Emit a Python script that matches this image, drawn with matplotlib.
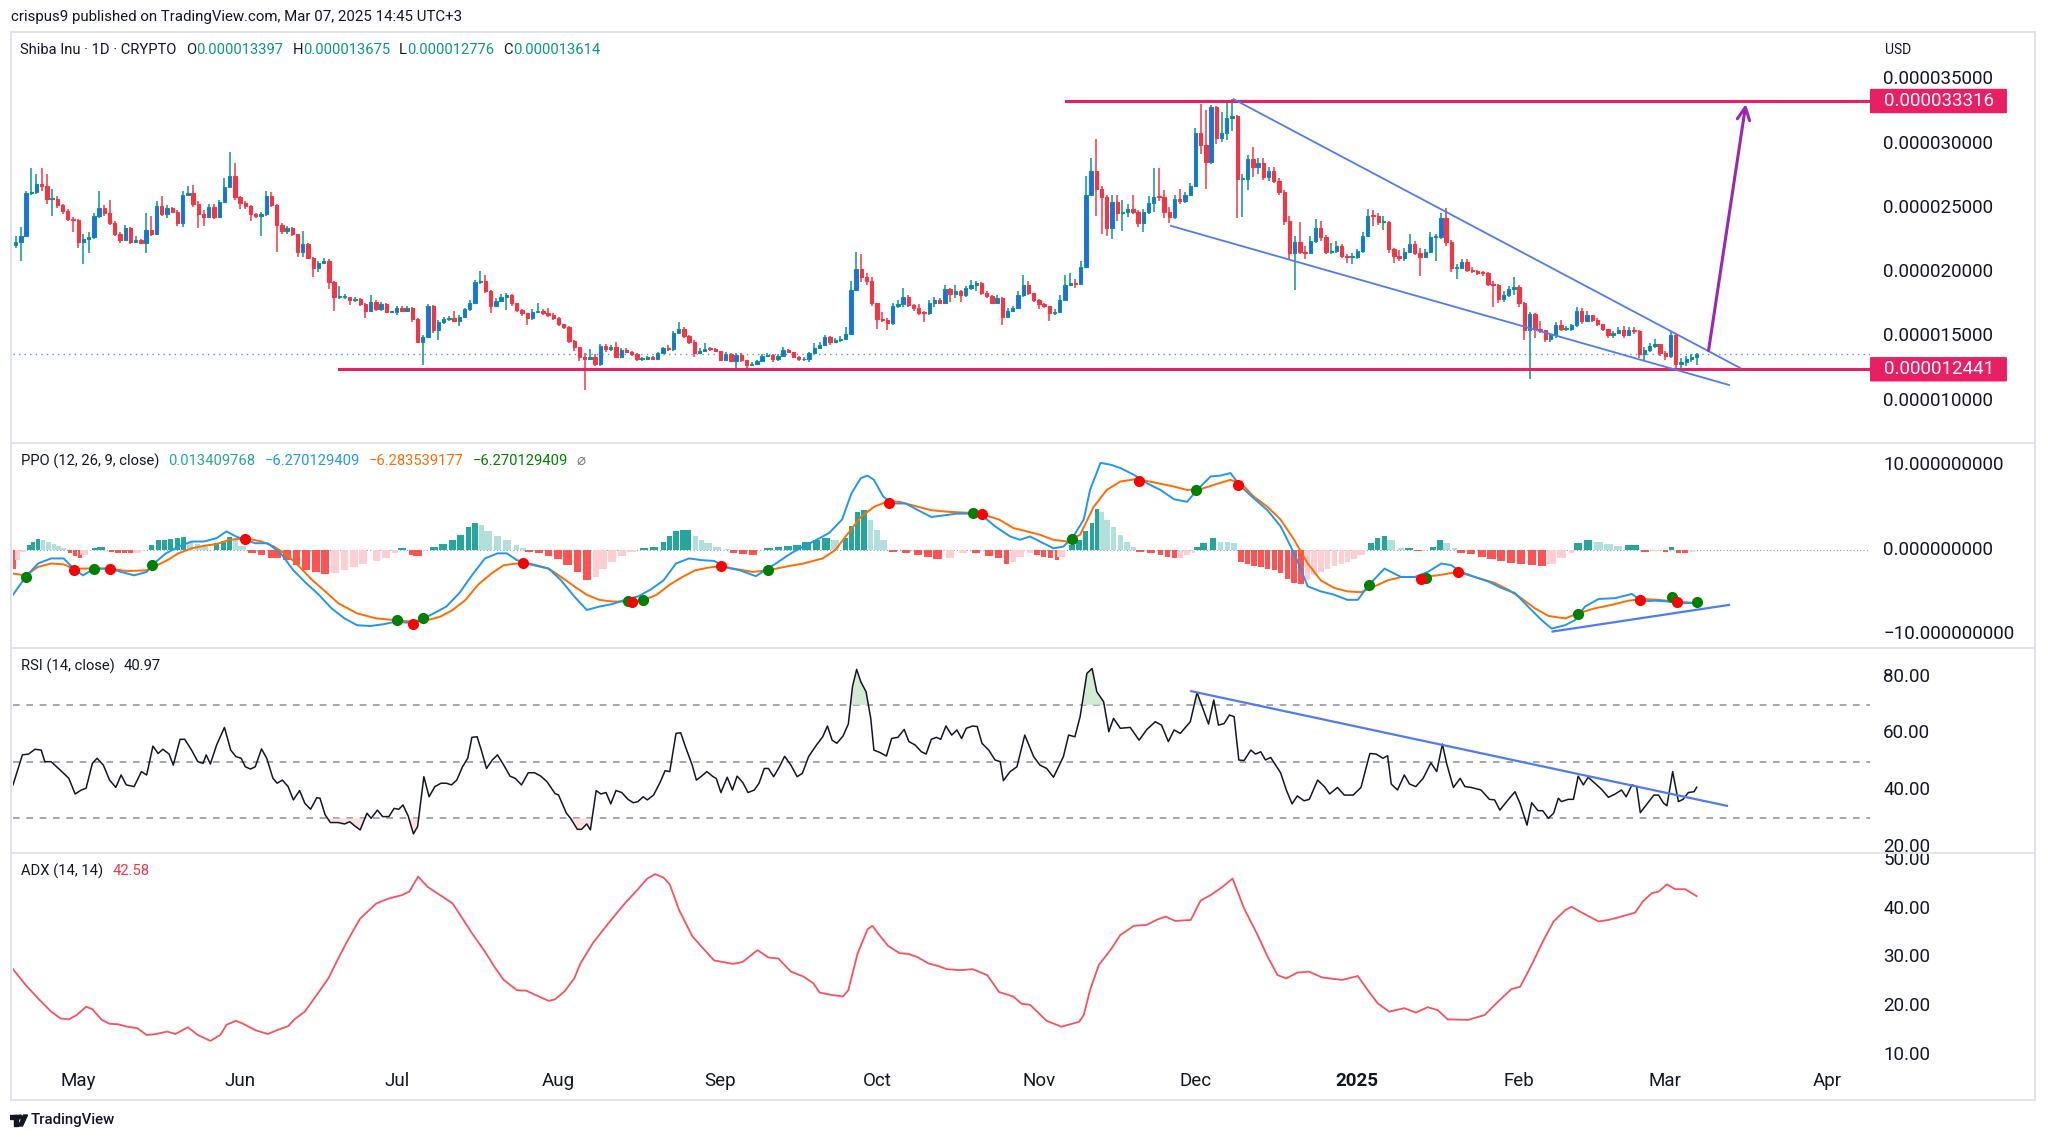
import numpy as np
import matplotlib
matplotlib.use("Agg")
import matplotlib.pyplot as plt
from matplotlib.lines import Line2D
from matplotlib.patches import FancyBboxPatch, Rectangle, Circle, Polygon

plt.rcParams['font.family'] = ['Roboto', 'DejaVu Sans']

W, H = 2048, 1141

# SHIB/USD daily candles, prices in units of 1e-6 USD.
# day 0 = 19 Apr 2024 ... day 322 = 7 Mar 2025; open = previous close
start_date = np.datetime64('2024-04-19')
first_open = 22.1
closes = [
    22.37, 22.84, 26.13, 26.26, 26.83, 26.7, 25.67, 25.72, 25.2, 24.76,
    24.14, 24.06, 22.37, 22.55, 22.71, 24.37, 24.97, 24.63, 23.85, 22.97,
    22.5, 23.41, 22.37, 22.5, 22.3, 23.28, 22.97, 25.15, 24.53, 24.97,
    24.71, 23.8, 26.0, 26.13, 25.3, 24.53, 24.32, 25.04, 24.27, 25.46,
    26.65, 27.48, 25.82, 25.35, 25.15, 24.53, 24.37, 24.53, 25.9, 25.2,
    23.67, 23.18, 23.41, 22.97, 21.6, 22.19, 21.13, 20.3, 20.74, 20.89,
    19.26, 18.04, 18.09, 18.09, 17.83, 17.88, 17.52, 17.0, 17.7, 17.11,
    17.52, 16.9, 16.9, 17.18, 17.0, 17.24, 16.33, 14.59, 14.98, 17.39,
    15.5, 16.15, 16.33, 16.41, 16.2, 16.54, 17.11, 17.62, 19.2, 19.34,
    18.56, 17.39, 17.78, 18.09, 18.22, 17.57, 17.05, 16.79, 16.41, 16.92,
    17.0, 16.79, 16.66, 16.41, 15.94, 15.76, 14.67, 14.2, 13.37, 13.27,
    13.42, 12.85, 14.25, 13.99, 14.15, 13.37, 13.94, 13.79, 13.63, 13.27,
    13.27, 13.37, 13.27, 13.68, 14.07, 14.0, 15.24, 15.58, 15.03, 14.59,
    13.73, 13.89, 14.04, 13.99, 13.89, 13.16, 13.63, 13.11, 13.58, 13.16,
    12.77, 12.85, 13.11, 13.47, 13.55, 13.21, 13.47, 13.94, 13.79, 13.42,
    13.21, 13.27, 13.68, 14.07, 14.33, 14.98, 14.59, 14.72, 14.82, 15.16,
    18.61, 20.22, 19.6, 19.31, 17.57, 16.38, 16.28, 16.02, 17.37, 17.5,
    18.09, 17.44, 17.24, 16.85, 16.79, 17.62, 17.83, 17.62, 18.66, 18.27,
    18.53, 18.22, 18.74, 18.97, 19.13, 18.35, 18.17, 17.62, 18.01, 16.54,
    17.0, 17.18, 18.2, 19.0, 18.36, 17.84, 17.53, 17.37, 16.85, 16.93,
    17.84, 19.0, 19.14, 19.1, 20.43, 26.01, 27.9, 26.45, 25.83, 23.42,
    25.49, 24.58, 24.69, 24.9, 24.71, 23.86, 24.71, 25.41, 25.88, 25.83,
    24.71, 24.27, 25.67, 25.57, 26.01, 26.71, 30.86, 29.9, 28.6, 32.83,
    30.42, 30.81, 31.98, 32.16, 27.26, 27.26, 28.79, 28.16, 28.53, 27.44,
    27.9, 27.13, 26.27, 24.01, 21.52, 22.38, 21.6, 21.47, 22.46, 23.47,
    22.77, 21.6, 21.65, 22.07, 21.29, 21.21, 21.21, 21.65, 22.82, 24.4,
    24.38, 23.94, 23.94, 21.78, 21.26, 21.08, 21.6, 22.2, 21.52, 21.21,
    21.6, 22.72, 22.77, 24.2, 22.38, 20.3, 20.36, 20.82, 20.17, 20.1,
    19.97, 19.92, 19.08, 19.01, 17.89, 18.23, 18.67, 18.83, 17.63, 15.47,
    16.77, 15.59, 15.47, 14.81, 15.07, 15.85, 15.59, 15.59, 15.85, 16.98,
    16.19, 16.64, 16.3, 15.98, 15.59, 15.07, 15.25, 15.52, 15.07, 15.52,
    15.41, 13.64, 13.95, 14.29, 14.42, 13.69, 13.51, 15.07, 12.86, 12.99,
    13.25, 13.397, 13.614,
]
highs = [
    22.8, 23.54, 26.3, 28.1, 27.6, 28.1, 27.6, 26.5, 25.9, 25.3,
    24.9, 24.3, 24.1, 23.0, 23.1, 24.6, 26.3, 25.2, 25.6, 24.0,
    23.1, 23.7, 23.5, 22.8, 22.6, 24.6, 24.4, 25.5, 25.9, 25.2,
    25.1, 24.8, 26.3, 26.7, 26.8, 25.5, 24.8, 25.3, 25.3, 25.6,
    27.3, 29.35, 28.5, 25.9, 25.5, 25.2, 24.6, 24.7, 26.3, 26.2,
    25.3, 23.8, 23.6, 23.5, 23.0, 23.2, 22.3, 21.2, 20.9, 21.1,
    21.0, 19.3, 18.95, 18.3, 18.1, 18.1, 18.0, 17.6, 18.2, 17.8,
    17.7, 17.6, 17.0, 17.4, 17.4, 17.4, 17.3, 16.4, 15.1, 17.5,
    17.45, 16.3, 16.5, 16.6, 17.0, 16.7, 17.2, 17.8, 19.4, 20.1,
    19.8, 18.6, 18.0, 18.3, 18.4, 18.3, 17.6, 17.1, 16.8, 17.1,
    17.6, 17.1, 17.2, 16.8, 16.5, 16.0, 15.8, 14.7, 14.2, 13.7,
    14.0, 13.6, 14.4, 14.4, 14.3, 14.6, 14.1, 14.1, 13.9, 13.7,
    13.4, 13.5, 13.45, 13.8, 14.2, 14.3, 15.4, 16.1, 15.7, 15.1,
    14.7, 14.1, 14.5, 14.2, 14.1, 13.9, 13.8, 13.7, 13.7, 13.7,
    13.2, 13.0, 13.2, 13.6, 13.7, 13.6, 13.6, 14.2, 14.0, 13.8,
    13.5, 13.4, 13.8, 14.5, 14.6, 15.1, 15.0, 14.9, 15.0, 15.7,
    19.3, 21.6, 21.4, 19.9, 19.6, 17.6, 16.9, 16.4, 17.6, 17.8,
    18.8, 18.2, 17.5, 17.5, 17.0, 17.8, 18.1, 18.0, 19.0, 18.8,
    19.0, 18.6, 18.9, 19.4, 19.3, 19.2, 18.5, 18.2, 18.2, 18.1,
    17.2, 17.4, 18.5, 19.8, 19.3, 18.4, 17.9, 17.6, 17.4, 17.1,
    18.2, 19.8, 19.9, 19.5, 20.9, 27.5, 28.9, 30.4, 26.7, 26.0,
    26.0, 26.0, 25.6, 25.3, 26.0, 24.8, 24.9, 25.9, 28.1, 28.1,
    26.4, 25.1, 26.0, 26.5, 26.2, 26.9, 31.2, 33.1, 32.6, 33.0,
    32.9, 32.5, 33.2, 33.46, 32.2, 27.6, 29.1, 29.7, 28.9, 28.9,
    28.2, 28.2, 27.3, 26.4, 24.4, 22.8, 23.9, 22.0, 22.8, 24.1,
    24.0, 22.9, 22.3, 22.4, 22.2, 21.4, 21.5, 21.8, 23.1, 24.9,
    24.8, 24.6, 24.4, 24.0, 21.9, 21.7, 21.9, 23.0, 22.4, 21.9,
    21.8, 23.1, 23.0, 24.6, 25.0, 22.5, 20.6, 21.0, 21.0, 20.4,
    20.2, 20.1, 20.0, 19.3, 19.1, 18.5, 18.9, 19.6, 19.0, 17.7,
    16.9, 16.8, 16.2, 15.5, 15.2, 16.1, 16.3, 15.8, 16.0, 17.3,
    17.2, 17.0, 16.7, 16.4, 16.0, 15.6, 15.4, 15.7, 15.8, 15.7,
    15.7, 15.5, 14.2, 14.5, 14.8, 14.4, 13.9, 15.4, 15.2, 13.3,
    13.5, 13.6, 13.675,
]
lows = [
    21.9, 20.9, 22.7, 26.0, 26.1, 26.3, 25.3, 24.4, 25.0, 24.5,
    24.0, 23.1, 21.85, 20.6, 21.5, 22.6, 24.2, 24.4, 23.7, 22.8,
    22.3, 22.4, 22.2, 22.3, 22.2, 21.5, 22.8, 22.9, 24.4, 24.2,
    24.6, 23.6, 23.5, 25.9, 25.1, 23.4, 23.6, 24.2, 24.1, 24.2,
    25.4, 26.6, 25.6, 24.9, 24.9, 24.0, 24.2, 22.8, 24.4, 25.1,
    21.6, 23.0, 23.0, 22.8, 21.15, 21.2, 21.0, 19.65, 20.0, 20.7,
    18.7, 17.0, 17.9, 17.9, 17.45, 17.7, 17.4, 16.4, 16.9, 17.0,
    17.0, 16.8, 16.8, 16.7, 16.9, 16.9, 16.1, 14.5, 12.8, 14.9,
    15.3, 14.75, 16.0, 16.2, 16.1, 15.8, 16.5, 17.0, 17.6, 19.1,
    18.4, 16.85, 17.3, 17.7, 17.05, 17.4, 16.9, 16.6, 15.9, 16.3,
    16.8, 16.7, 16.5, 16.3, 15.8, 15.6, 14.5, 13.9, 13.1, 10.8,
    13.2, 12.7, 12.7, 13.8, 13.9, 13.3, 13.3, 13.7, 13.5, 13.1,
    13.1, 13.2, 13.15, 13.2, 13.6, 13.9, 13.9, 15.2, 14.9, 14.4,
    13.4, 13.6, 13.8, 13.9, 13.8, 13.1, 13.1, 13.0, 12.5, 13.0,
    12.4, 12.7, 12.8, 13.0, 13.4, 13.0, 13.1, 13.4, 13.7, 13.3,
    13.1, 13.1, 13.0, 13.6, 14.0, 14.3, 14.3, 14.5, 14.6, 14.8,
    15.1, 18.5, 19.2, 19.0, 17.4, 15.6, 16.1, 15.5, 15.9, 17.2,
    17.3, 17.3, 17.0, 16.7, 16.1, 16.7, 17.3, 17.5, 17.5, 17.7,
    18.0, 17.7, 18.1, 18.6, 18.5, 18.2, 18.0, 17.5, 17.6, 15.9,
    16.4, 16.9, 17.1, 18.1, 18.2, 17.7, 17.1, 17.2, 16.2, 16.7,
    16.9, 17.8, 18.9, 18.8, 19.0, 20.3, 26.0, 24.4, 23.0, 22.8,
    22.6, 24.0, 23.2, 24.3, 24.5, 23.5, 23.1, 24.5, 24.7, 25.5,
    24.2, 23.8, 24.1, 25.3, 25.4, 25.9, 26.6, 29.2, 26.5, 28.4,
    30.0, 30.1, 30.3, 31.0, 24.2, 24.3, 26.4, 27.4, 27.6, 27.2,
    27.1, 26.9, 26.0, 23.7, 21.0, 18.6, 21.4, 21.0, 21.4, 22.3,
    22.4, 21.4, 21.4, 21.5, 21.1, 20.7, 20.6, 21.0, 21.5, 22.7,
    23.6, 23.7, 23.3, 21.5, 20.7, 20.9, 20.9, 21.5, 21.3, 19.7,
    21.1, 21.5, 20.9, 22.6, 22.0, 20.0, 19.5, 20.3, 20.0, 19.9,
    19.8, 19.7, 18.9, 17.3, 17.6, 17.7, 18.1, 18.2, 17.3, 14.7,
    11.69, 14.9, 15.3, 14.6, 14.6, 14.9, 15.4, 15.4, 15.4, 15.7,
    16.0, 16.1, 16.1, 15.8, 15.4, 14.9, 14.9, 15.2, 14.9, 15.0,
    15.2, 13.3, 13.1, 13.8, 14.1, 13.5, 13.2, 13.3, 12.5, 12.2,
    12.7, 13.0, 12.776,
]

# drawings on the price pane (day, price)
resistance = 33.316
support = 12.441
resistance_from = 201.2
support_from = 62.0
last_close = 13.614
wedge_upper = [(233.3, 33.46), (330.3, 12.55)]
wedge_lower = [(221.3, 23.6), (328.2, 11.22)]
target_arrow = [(324.2, 13.7), (331.5, 33.3)]
price_ticks = [10, 15, 20, 25, 30, 35]

# PPO (12, 26, 9): (day, value)
ppo_line = [(-0.5, -5.3), (1.9, -3.2), (4.3, -1.6), (6.8, -1.0), (9.2, -1.0), (11.1, -2.2), (12.9, -3.0),
            (15.1, -2.2), (18.0, -2.2), (20.2, -2.6), (22.7, -3.0), (25.1, -2.6), (26.3, -1.7), (28.8, -0.4),
            (31.2, 0.4), (33.7, 1.0), (36.1, 1.0), (38.5, 1.4), (40.4, 2.2), (42.2, 1.6), (44.0, 1.2),
            (45.9, 0.8), (48.3, 0.8), (50.8, -0.4), (53.2, -2.4), (55.6, -3.9), (58.1, -5.3), (60.5, -6.9),
            (63.0, -8.1), (65.4, -8.9), (67.9, -9.0), (70.3, -8.8), (72.7, -8.5), (75.2, -8.6), (77.6, -8.3),
            (80.1, -7.5), (82.5, -6.7), (85.0, -5.1), (87.4, -3.0), (89.9, -1.0), (92.3, -0.4), (94.1, -0.4),
            (96.0, -1.2), (98.4, -1.6), (102.1, -2.2), (104.5, -3.6), (107.0, -5.5), (109.4, -7.1),
            (111.8, -6.7), (114.3, -6.4), (116.7, -5.9), (119.2, -5.5), (121.6, -4.7), (124.1, -3.6),
            (126.5, -1.6), (129.0, -1.0), (131.4, -1.2), (133.8, -1.3), (136.3, -2.1), (138.7, -2.4),
            (141.8, -3.1), (143.6, -2.4), (146.1, -1.4), (148.5, -0.4), (150.9, 0.4), (153.4, 1.2),
            (155.8, 2.0), (158.3, 3.6), (160.1, 6.7), (161.9, 8.5), (163.2, 8.8), (164.4, 8.3), (166.2, 6.3),
            (168.0, 5.5), (170.5, 5.5), (172.9, 4.7), (175.4, 3.9), (177.8, 4.1), (180.3, 4.3), (182.7, 4.3),
            (185.1, 4.1), (187.6, 2.8), (190.5, 1.6), (192.4, 1.2), (194.3, 1.6), (196.2, 1.0), (198.8, 0.2),
            (200.7, 0.4), (202.6, 1.6), (204.6, 3.6), (205.8, 7.1), (207.8, 10.3), (209.7, 10.1),
            (211.6, 9.7), (214.2, 8.9), (216.7, 7.9), (219.3, 7.1), (221.9, 6.0), (224.4, 5.7), (226.3, 7.1),
            (228.9, 8.7), (230.8, 8.8), (232.7, 9.1), (234.7, 7.5), (237.2, 6.1), (239.8, 4.7), (242.3, 2.8),
            (244.9, -0.4), (247.5, -4.3), (250.0, -4.9), (252.6, -5.3), (255.1, -5.9), (257.1, -5.9),
            (259.0, -4.3), (262.2, -2.2), (265.4, -3.2), (268.0, -3.2), (270.5, -2.6), (273.1, -1.6),
            (275.0, -1.8), (276.9, -2.6), (279.5, -3.2), (282.0, -3.7), (284.6, -4.5), (287.2, -5.1),
            (289.7, -6.7), (292.3, -8.3), (294.2, -9.3), (296.8, -8.9), (298.7, -8.3), (300.6, -6.7),
            (303.2, -5.8), (306.4, -5.7), (309.6, -5.2), (311.5, -6.1), (314.0, -6.0), (316.6, -6.1),
            (319.2, -6.3), (322.0, -6.27)]
ppo_signal = [(-0.5, -2.8), (1.9, -3.0), (4.3, -2.0), (6.8, -1.6), (9.2, -1.7), (11.1, -2.2), (14.1, -2.2),
              (18.0, -2.2), (21.4, -2.5), (25.1, -2.4), (28.8, -1.3), (31.2, -0.4), (33.7, 0.2), (36.1, 0.5),
              (38.5, 0.7), (41.0, 1.2), (44.0, 1.4), (47.1, 1.0), (49.5, 0.4), (52.0, -0.6), (54.4, -2.0),
              (56.9, -3.6), (59.3, -4.9), (61.8, -6.3), (65.4, -7.5), (69.1, -8.1), (72.7, -8.3),
              (76.4, -8.5), (78.9, -8.3), (81.3, -7.9), (83.7, -7.1), (86.2, -5.9), (88.6, -4.1),
              (91.1, -2.8), (93.5, -1.8), (96.0, -1.6), (98.4, -1.7), (102.1, -2.2), (104.5, -3.2),
              (107.0, -4.3), (109.4, -5.3), (111.8, -5.9), (114.3, -6.1), (117.3, -6.1), (120.4, -5.9),
              (122.8, -5.3), (125.3, -4.1), (127.7, -3.2), (130.2, -2.4), (132.6, -2.1), (135.1, -1.9),
              (137.5, -2.2), (141.2, -2.6), (144.2, -2.4), (147.3, -2.0), (150.9, -1.6), (154.6, -1.0),
              (157.0, 0.0), (159.5, 2.0), (161.9, 3.9), (164.4, 5.1), (166.8, 5.7), (169.3, 5.7),
              (171.7, 5.3), (175.4, 4.7), (179.0, 4.5), (182.7, 4.4), (185.8, 4.1), (188.4, 3.6),
              (191.1, 2.6), (193.7, 2.2), (196.2, 1.8), (198.8, 1.2), (201.4, 1.0), (203.9, 1.8),
              (206.5, 5.1), (209.0, 7.1), (211.6, 8.1), (214.8, 8.4), (218.0, 8.0), (221.9, 7.5),
              (224.4, 7.1), (227.0, 7.2), (229.5, 7.7), (232.7, 8.3), (234.7, 7.9), (237.2, 6.3),
              (239.8, 5.1), (242.3, 3.6), (244.9, 1.2), (247.5, -1.6), (250.0, -3.6), (252.6, -4.5),
              (255.1, -4.9), (257.7, -5.0), (260.3, -4.3), (262.8, -3.6), (265.4, -3.2), (269.2, -3.2),
              (272.4, -3.0), (276.3, -2.6), (279.5, -3.2), (283.3, -3.9), (285.9, -4.7), (288.4, -5.7),
              (291.0, -6.9), (293.6, -7.8), (296.8, -8.1), (299.3, -7.5), (302.5, -6.9), (305.7, -6.5),
              (308.9, -6.0), (311.5, -5.8), (314.7, -5.9), (317.9, -6.1), (322.0, -6.28)]
ppo_hist = [(-0.3, -2.2), (0.4, -1.2), (1.5, -0.2), (2.5, 0.6), (3.4, 1.0), (4.3, 1.3), (5.3, 1.2),
            (6.3, 1.0), (7.3, 0.7), (8.2, 0.5), (9.2, 0.2), (10.4, -0.4), (11.4, -0.7), (12.3, -0.9),
            (13.1, -0.6), (15.1, 0.2), (16.3, 0.3), (18.4, -0.2), (19.6, -0.3), (20.8, -0.4), (22.0, -0.4),
            (23.3, -0.3), (26.1, 0.6), (27.3, 1.2), (28.5, 1.2), (29.7, 1.3), (31.0, 1.4), (32.2, 1.5),
            (33.4, 1.0), (34.9, 0.7), (36.1, 0.5), (38.5, 0.8), (39.8, 1.1), (41.0, 1.5), (42.2, 1.2),
            (43.4, 0.5), (45.3, -0.4), (47.1, -0.6), (48.9, -0.9), (50.1, -1.0), (52.0, -1.2), (53.8, -1.8),
            (55.6, -2.4), (57.5, -2.6), (59.3, -2.8), (61.1, -2.7), (63.0, -2.4), (64.8, -2.0), (66.6, -1.7),
            (69.1, -1.3), (70.9, -0.9), (72.7, -0.4), (74.0, 0.2), (75.8, -0.6), (77.0, -0.7), (80.1, 0.3),
            (81.9, 0.7), (83.7, 1.2), (85.2, 1.8), (86.8, 2.7), (88.0, 3.2), (89.2, 3.0), (90.5, 2.2),
            (92.3, 1.6), (94.1, 1.2), (96.0, 0.6), (97.2, 0.2), (98.4, -0.2), (100.2, -0.4), (102.1, -0.7),
            (103.9, -1.1), (105.7, -1.8), (107.6, -2.6), (109.4, -3.6), (111.2, -3.2), (112.5, -2.2),
            (114.3, -1.4), (116.1, -0.7), (118.0, -0.2), (120.4, 0.2), (122.2, 0.4), (124.1, 1.0),
            (125.3, 1.6), (126.5, 2.2), (127.7, 2.4), (128.7, 2.4), (130.2, 1.6), (131.4, 1.2), (132.6, 0.8),
            (134.4, 0.3), (136.3, 0.1), (137.5, -0.3), (139.3, -0.5), (141.2, -0.6), (144.2, 0.2),
            (146.1, 0.3), (147.9, 0.5), (149.7, 0.6), (151.5, 1.0), (153.4, 1.2), (155.2, 1.4), (157.0, 1.2),
            (158.9, 1.4), (160.1, 2.8), (161.3, 4.5), (162.5, 4.7), (163.8, 3.6), (165.0, 2.4), (166.2, 1.2),
            (168.0, -0.2), (170.5, -0.3), (172.9, -0.6), (174.8, -0.8), (176.6, -1.1), (179.0, -0.9),
            (181.5, -0.4), (183.9, -0.4), (186.4, -0.7), (188.2, -0.9), (189.8, -1.6), (191.1, -1.4),
            (192.4, -0.8), (194.3, -0.4), (195.6, -0.6), (196.9, -0.8), (198.2, -1.0), (199.4, -1.2),
            (200.3, -0.8), (202.4, 0.6), (203.7, 1.2), (204.9, 2.2), (206.2, 3.2), (207.1, 4.9), (208.0, 4.5),
            (209.0, 3.5), (210.3, 2.7), (211.6, 1.8), (212.9, 1.0), (214.2, 0.4), (215.4, -0.2),
            (217.4, -0.3), (219.3, -0.6), (220.6, -0.8), (221.9, -1.0), (223.1, -0.9), (224.4, -0.6),
            (225.7, -0.4), (226.3, 0.4), (227.6, 0.8), (229.3, 1.4), (230.8, 1.0), (232.1, 0.9), (233.4, 0.8),
            (234.7, -1.4), (236.0, -1.7), (237.2, -1.9), (238.5, -2.0), (239.8, -2.2), (241.1, -2.4),
            (242.3, -2.7), (243.6, -3.4), (244.9, -3.9), (246.2, -4.0), (247.5, -3.5), (248.7, -3.0),
            (250.0, -2.6), (251.3, -2.2), (252.6, -1.9), (253.9, -1.7), (255.1, -1.4), (256.4, -1.1),
            (257.7, -0.6), (259.6, 0.8), (260.9, 1.4), (262.2, 1.6), (263.5, 1.2), (265.4, 0.2), (266.9, 0.2),
            (268.6, -0.1), (270.5, 0.05), (271.5, 0.4), (272.8, 1.2), (274.1, 0.8), (275.6, 0.2),
            (276.9, -0.3), (278.8, -0.5), (280.8, -0.8), (282.7, -1.1), (284.6, -1.3), (286.5, -1.5),
            (288.4, -1.7), (290.4, -1.8), (292.3, -1.9), (294.2, -1.6), (296.1, -1.0), (298.0, -0.4),
            (299.3, 0.8), (301.2, 1.2), (303.2, 1.0), (305.1, 0.7), (307.0, 0.5), (308.9, 0.6), (310.2, 0.6),
            (312.1, -0.2), (314.0, -0.1), (316.0, -0.2), (317.2, 0.3), (318.5, -0.3), (319.8, -0.4),
            (321.1, -0.2), (322.0, 0.013)]
ppo_cross_up = [(1.9, -3.2), (15.1, -2.2), (26.1, -1.8), (73.1, -8.3), (78.0, -8.1), (117.3, -6.0),
                (120.2, -5.9), (144.2, -2.4), (183.3, 4.4), (202.3, 1.3), (226.1, 7.1), (259.2, -4.1),
                (270.1, -3.3), (299.2, -7.6), (317.2, -5.6), (322.0, -6.2)]
ppo_cross_down = [(11.1, -2.4), (18.0, -2.2), (44.0, 1.3), (76.2, -8.7), (97.2, -1.5), (118.0, -6.1),
                  (135.1, -1.9), (167.2, 5.6), (185.1, 4.3), (215.2, 8.2), (234.1, 7.7), (269.2, -3.4),
                  (276.3, -2.6), (311.2, -5.9), (318.3, -6.2)]
ppo_trend = [(294.4, -9.65), (328.2, -6.5)]
ppo_ticks = [10, 0, -10]

# RSI (14): (day, value)
rsi_points = [(-0.5, 41.8), (1.3, 52.4), (2.5, 52.7), (3.7, 54.4), (4.9, 54.1), (5.6, 50.0), (6.8, 50.0),
              (9.2, 45.9), (10.2, 44.1), (11.4, 38.6), (12.6, 40.0), (13.5, 40.6), (14.7, 49.4), (15.6, 51.2),
              (16.8, 48.8), (18.0, 43.5), (19.2, 40.9), (20.2, 45.3), (21.2, 41.8), (22.7, 41.2), (24.1, 46.5),
              (25.1, 45.3), (26.3, 55.5), (27.3, 52.9), (28.2, 54.4), (29.4, 52.7), (30.2, 48.8), (31.5, 57.9),
              (32.4, 57.9), (33.7, 54.1), (34.9, 50.0), (35.9, 49.4), (36.5, 52.4), (37.3, 49.2), (38.5, 55.9),
              (40.0, 62.1), (41.2, 54.1), (42.2, 51.8), (43.2, 51.2), (44.0, 48.2), (45.0, 47.4), (45.9, 48.2),
              (47.1, 54.5), (48.1, 51.2), (49.3, 44.1), (50.1, 42.4), (51.1, 43.5), (52.2, 41.2), (53.2, 36.5),
              (54.4, 39.8), (55.4, 35.3), (56.5, 33.2), (57.7, 37.3), (58.3, 37.1), (59.3, 31.2), (60.3, 28.5),
              (61.8, 28.5), (63.0, 28.0), (64.0, 28.8), (64.9, 27.4), (66.0, 25.9), (67.3, 31.8), (68.1, 30.0),
              (69.3, 32.9), (70.3, 30.6), (71.5, 30.6), (72.5, 33.5), (73.4, 33.2), (74.2, 34.7), (75.2, 30.8),
              (76.2, 24.5), (77.0, 27.1), (78.2, 44.7), (79.2, 37.6), (80.3, 41.2), (81.5, 42.4), (82.5, 42.4),
              (83.5, 41.8), (84.5, 43.5), (85.6, 48.2), (86.6, 51.2), (87.4, 58.6), (88.4, 58.8), (89.2, 54.1),
              (90.2, 47.6), (91.3, 50.6), (92.3, 52.4), (93.5, 48.8), (94.7, 44.9), (95.7, 44.1), (96.9, 41.8),
              (98.2, 46.1), (99.4, 46.1), (100.6, 44.9), (101.8, 42.9), (103.3, 38.8), (104.0, 38.2),
              (105.5, 31.8), (106.3, 30.0), (107.6, 26.1), (108.4, 26.1), (109.4, 28.0), (110.1, 25.9),
              (111.2, 39.8), (112.1, 38.6), (113.1, 39.1), (114.0, 35.1), (115.0, 39.8), (116.1, 39.1),
              (117.3, 36.7), (118.3, 35.5), (119.2, 35.9), (120.2, 37.6), (121.0, 36.5), (122.2, 38.2),
              (123.5, 42.9), (124.4, 46.8), (125.3, 46.5), (126.5, 60.0), (127.4, 60.2), (128.3, 55.3),
              (129.6, 48.8), (130.4, 43.5), (131.4, 44.9), (132.4, 46.5), (133.6, 44.7), (134.2, 44.1),
              (135.1, 39.1), (136.3, 44.5), (137.3, 40.0), (138.2, 44.9), (139.3, 42.6), (140.3, 39.1),
              (141.5, 40.0), (142.4, 42.4), (143.4, 47.6), (144.2, 47.6), (145.2, 44.7), (146.3, 48.2),
              (147.3, 51.9), (148.5, 48.8), (149.7, 44.7), (150.7, 45.9), (151.9, 51.8), (153.4, 55.9),
              (154.6, 58.8), (155.5, 62.6), (156.4, 57.6), (157.3, 56.5), (158.5, 59.1), (159.5, 63.3),
              (160.3, 76.5), (161.1, 82.6), (161.9, 78.2), (162.9, 74.7), (163.8, 65.3), (164.4, 54.1),
              (165.6, 53.2), (166.8, 52.0), (167.8, 58.2), (169.0, 58.6), (170.2, 61.4), (171.1, 57.1),
              (172.3, 55.9), (173.5, 53.5), (174.4, 52.7), (175.4, 57.9), (176.4, 58.6), (177.2, 57.9),
              (178.2, 62.6), (179.3, 59.4), (180.3, 61.2), (181.2, 58.2), (182.1, 61.8), (183.3, 62.6),
              (184.2, 62.4), (185.1, 56.5), (186.4, 54.1), (187.6, 50.6), (188.6, 50.0), (189.2, 43.3),
              (190.5, 46.5), (191.8, 48.2), (193.3, 59.4), (195.0, 51.8), (196.2, 48.8), (197.5, 47.6),
              (198.8, 44.5), (200.7, 51.8), (201.7, 59.4), (202.9, 58.8), (203.9, 65.9), (205.2, 81.2),
              (206.2, 82.9), (207.1, 74.7), (208.4, 71.2), (209.4, 60.6), (210.3, 65.3), (211.6, 61.8),
              (213.5, 62.1), (215.2, 57.6), (216.7, 61.4), (218.3, 64.1), (219.5, 62.9), (220.8, 57.1),
              (221.9, 61.2), (223.1, 60.0), (225.0, 64.1), (226.3, 74.4), (227.4, 68.8), (228.5, 63.3),
              (229.5, 71.8), (230.4, 62.9), (231.5, 63.5), (232.5, 66.5), (233.4, 65.9), (234.3, 50.6),
              (235.3, 50.4), (236.6, 54.1), (237.5, 52.7), (238.5, 53.5), (239.4, 50.6), (240.4, 51.5),
              (242.3, 46.1), (243.4, 40.0), (244.5, 35.1), (245.5, 37.9), (246.8, 36.2), (247.8, 36.7),
              (249.4, 43.5), (250.7, 41.2), (251.7, 38.6), (253.2, 40.9), (254.5, 38.2), (256.2, 38.2),
              (257.7, 40.9), (259.4, 52.9), (260.6, 52.7), (261.9, 51.2), (262.8, 52.1), (263.5, 42.1),
              (264.7, 40.0), (266.0, 45.3), (267.0, 42.1), (268.2, 41.2), (269.6, 44.1), (271.1, 49.6),
              (272.2, 46.5), (273.3, 56.2), (274.1, 49.4), (275.4, 40.9), (276.7, 44.1), (277.6, 41.2),
              (278.8, 40.9), (280.7, 40.0), (282.3, 36.7), (283.3, 36.5), (284.3, 32.9), (285.6, 35.9),
              (287.2, 39.4), (288.2, 35.1), (289.5, 27.6), (290.4, 35.5), (291.6, 32.7), (292.5, 32.7),
              (293.6, 30.0), (294.6, 31.8), (295.5, 37.1), (296.1, 35.9), (297.4, 36.7), (298.4, 36.7),
              (299.3, 44.9), (300.3, 41.8), (301.2, 44.5), (302.5, 42.4), (303.8, 40.2), (305.1, 37.4),
              (306.4, 38.6), (307.6, 40.0), (308.5, 37.6), (309.6, 41.8), (310.5, 41.2), (311.2, 32.0),
              (312.5, 35.1), (313.8, 38.2), (314.7, 38.2), (315.6, 35.5), (316.3, 34.4), (317.4, 46.5),
              (318.5, 35.9), (319.4, 36.7), (320.4, 39.1), (321.5, 39.4), (322.0, 40.97)]
rsi_levels = [70, 50, 30]
rsi_trend = [(225.2, 74.9), (327.8, 34.4)]
rsi_ticks = [80, 60, 40, 20]

# ADX (14, 14): (day, value)
adx_points = [(-0.5, 27.6), (1.9, 24.4), (4.3, 21.6), (6.8, 18.9), (8.6, 17.5), (10.2, 17.3), (11.7, 18.2),
              (13.5, 19.9), (14.7, 19.4), (16.5, 17.2), (18.0, 16.4), (19.6, 16.3), (21.4, 15.8), (23.3, 15.5),
              (25.1, 14.1), (26.9, 14.3), (29.0, 14.8), (30.6, 14.3), (33.0, 15.7), (34.9, 14.1), (37.3, 12.9),
              (39.2, 14.1), (40.4, 16.2), (42.2, 17.0), (43.4, 16.5), (45.9, 15.1), (48.3, 14.3), (50.1, 15.1),
              (52.2, 15.9), (53.4, 17.3), (55.4, 18.9), (57.8, 22.5), (59.9, 25.7), (61.8, 29.8), (63.6, 33.5),
              (66.0, 38.0), (69.1, 41.1), (71.5, 42.1), (74.0, 42.8), (75.4, 43.5), (77.1, 46.6), (78.9, 44.5),
              (81.3, 42.8), (83.7, 41.1), (85.6, 38.0), (87.4, 35.0), (89.9, 31.2), (91.7, 28.1), (93.5, 25.4),
              (96.0, 23.3), (97.8, 23.2), (99.6, 22.3), (102.1, 21.1), (103.3, 21.4), (105.1, 23.0),
              (107.0, 25.7), (108.2, 28.8), (110.6, 33.0), (112.5, 35.6), (114.3, 38.0), (116.7, 41.1),
              (119.2, 44.0), (121.0, 46.2), (122.5, 47.1), (124.1, 46.4), (125.3, 45.0), (127.1, 39.7),
              (129.6, 34.4), (131.4, 32.2), (133.8, 29.4), (136.3, 28.9), (137.5, 28.7), (139.3, 29.1),
              (142.1, 31.5), (144.2, 30.0), (146.1, 29.8), (148.5, 27.1), (150.9, 26.1), (152.8, 24.7),
              (154.0, 22.8), (156.4, 22.3), (158.5, 22.0), (159.5, 23.3), (161.3, 30.9), (163.2, 35.8),
              (164.1, 36.5), (165.6, 34.4), (167.1, 32.4), (169.3, 30.9), (171.1, 30.7), (172.9, 30.0),
              (174.8, 28.8), (176.6, 28.3), (178.4, 27.6), (180.9, 27.4), (183.3, 27.6), (186.1, 26.4),
              (188.4, 22.9), (191.1, 22.0), (192.7, 20.5), (194.3, 20.3), (197.5, 17.0), (200.3, 15.8),
              (203.7, 16.8), (204.6, 18.2), (205.8, 23.3), (207.5, 28.5), (209.7, 31.5), (211.6, 34.6),
              (214.2, 36.5), (216.7, 36.7), (218.7, 37.8), (220.3, 38.4), (222.1, 37.5), (225.1, 37.7),
              (227.0, 41.7), (228.9, 42.8), (231.2, 44.5), (233.1, 46.2), (235.3, 40.1), (237.9, 34.6),
              (239.8, 30.2), (241.7, 26.4), (243.4, 25.7), (245.5, 26.9), (247.7, 27.1), (250.3, 25.9),
              (254.1, 25.4), (257.1, 26.2), (259.0, 23.3), (260.9, 20.6), (263.1, 18.9), (266.0, 19.6),
              (268.2, 18.7), (270.5, 19.8), (272.4, 19.2), (274.3, 17.3), (278.2, 17.2), (281.4, 18.2),
              (283.9, 20.9), (286.5, 23.5), (288.2, 24.0), (290.4, 28.5), (292.5, 33.2), (294.6, 37.4),
              (296.8, 39.7), (298.0, 40.4), (300.2, 39.1), (303.2, 37.4), (305.1, 37.7), (307.6, 38.4),
              (310.2, 39.2), (311.7, 41.5), (313.4, 43.2), (314.7, 43.5), (316.3, 45.0), (317.9, 44.0),
              (319.8, 44.0), (322.0, 42.58)]
adx_ticks = [50, 40, 30, 20, 10]

month_starts = ['2024-05-01', '2024-06-01', '2024-07-01', '2024-08-01', '2024-09-01', '2024-10-01',
                '2024-11-01', '2024-12-01', '2025-01-01', '2025-02-01', '2025-03-01', '2025-04-01']
month_labels = ['May', 'Jun', 'Jul', 'Aug', 'Sep', 'Oct', 'Nov', 'Dec', '2025', 'Feb', 'Mar', 'Apr']

# colours
TXT = '#131722'
UP_BODY, UP_WICK, DOWN = '#2962ff', '#089981', '#f23645'
LEVEL = '#e91e63'
TREND = '#4f7cf6'
GRID = '#e0e3eb'

fig = plt.figure(figsize=(W / 100, H / 100), dpi=100, facecolor='white')


def panel(y_top, y_bot):
    ax = fig.add_axes([13 / W, 1 - y_bot / H, 1857 / W, (y_bot - y_top) / H])
    lab = fig.add_axes([1870 / W, 1 - y_bot / H, 165 / W, (y_bot - y_top) / H])
    for a in (ax, lab):
        for s in a.spines.values():
            s.set_visible(False)
        a.set_xticks([])
        a.set_yticks([])
        a.patch.set_alpha(0)
    ax.set_xlim(-0.5, 355.2)
    lab.set_xlim(0, 1)
    return ax, lab


def right_labels(lab, ticks, fmt):
    for t in ticks:
        lab.text(0.08, t, fmt(t), transform=lab.get_yaxis_transform(), ha='left', va='center',
                 fontsize=13.5, color=TXT, clip_on=True)


ax_p, lab_p = panel(33, 441)
ax_o, lab_o = panel(444, 647)
ax_r, lab_r = panel(649, 852)
ax_a, lab_a = panel(854, 1060)

# ---- price pane ----
ylim_p = (6.86, 38.61)
ax_p.set_ylim(*ylim_p)
lab_p.set_ylim(*ylim_p)
c = np.array(closes)
o = np.array([first_open] + closes[:-1])
hi = np.maximum(np.array(highs), np.maximum(o, c))
lo = np.minimum(np.array(lows), np.minimum(o, c))
x = np.arange(len(c))
up = c >= o
body_lo = np.minimum(o, c)
body_h = np.maximum(np.abs(c - o), 0.07)
ax_p.vlines(x[up], lo[up], hi[up], color=UP_WICK, lw=1.1, zorder=2)
ax_p.vlines(x[~up], lo[~up], hi[~up], color=DOWN, lw=1.1, zorder=2)
ax_p.bar(x[up], body_h[up], 0.64, bottom=body_lo[up], color=UP_BODY, edgecolor=UP_WICK, lw=0.8, zorder=3)
ax_p.bar(x[~up], body_h[~up], 0.64, bottom=body_lo[~up], color=DOWN, edgecolor=DOWN, lw=0.8, zorder=3)

ax_p.axhline(last_close, color='#5b8def', lw=1.0, ls=(0, (1, 3)), zorder=1)
ax_p.plot([resistance_from, 355.2], [resistance] * 2, color=LEVEL, lw=2.2, zorder=4)
ax_p.plot([support_from, 355.2], [support] * 2, color=LEVEL, lw=2.2, zorder=4)
for seg in (wedge_upper, wedge_lower):
    sx, sy = zip(*seg)
    ax_p.plot(sx, sy, color=TREND, lw=1.3, zorder=4)
ax_p.annotate('', xy=target_arrow[1], xytext=target_arrow[0],
              arrowprops=dict(arrowstyle='->,head_length=0.9,head_width=0.45', color='#9c27b0', lw=2.2),
              zorder=5)

right_labels(lab_p, price_ticks, lambda t: f'{t / 1e6:.9f}')
for lvl in (resistance, support):
    lab_p.add_patch(FancyBboxPatch((0.0, lvl - 0.95), 0.83, 1.9, boxstyle='round,pad=0,rounding_size=0.02',
                                   transform=lab_p.transData, facecolor=LEVEL, edgecolor='none', zorder=5))
    lab_p.text(0.085, lvl, f'{lvl / 1e6:.9f}', ha='left', va='center', fontsize=13.5, color='white', zorder=6)
fig.text(1885 / W, 1 - 50 / H, 'USD', fontsize=10, color=TXT, va='center', ha='left')

# ---- PPO pane ----
ylim_o = (-11.48, 12.54)
ax_o.set_ylim(*ylim_o)
lab_o.set_ylim(*ylim_o)
hd, hv = map(np.array, zip(*ppo_hist))
hcol = []
prev = 0.0
for v in hv:
    if v >= 0:
        hcol.append('#26a69a' if v >= prev else '#b2dfdb')
    else:
        hcol.append('#ff5252' if v <= prev else '#ffcdd2')
    prev = v
hw = np.clip(np.diff(hd, append=hd[-1] + 1.2) * 0.82, 0.6, 1.6)
ax_o.bar(hd, hv, hw, color=hcol, zorder=2)
ax_o.axhline(0, color='#9598a1', lw=0.8, ls=(0, (1, 2)), zorder=1)
ld, lv = zip(*ppo_line)
sd, sv = zip(*ppo_signal)
ax_o.plot(sd, sv, color='#ff6d00', lw=1.4, zorder=3)
ax_o.plot(ld, lv, color='#2196f3', lw=1.4, zorder=3)
ud, uv = zip(*ppo_cross_up)
dd, dv = zip(*ppo_cross_down)
ax_o.plot(ud, uv, 'o', color='#008000', ms=7, zorder=5)
ax_o.plot(dd, dv, 'o', color='#ff0000', ms=7, zorder=5)
tx, ty = zip(*ppo_trend)
ax_o.plot(tx, ty, color=TREND, lw=1.6, zorder=4)
right_labels(lab_o, ppo_ticks, lambda t: f'{t:.9f}'.replace('-', '\u2212'))

# ---- RSI pane ----
ylim_r = (18.1, 89.8)
ax_r.set_ylim(*ylim_r)
lab_r.set_ylim(*ylim_r)
rd, rv = map(np.array, zip(*rsi_points))
for lvl in rsi_levels:
    ax_r.axhline(lvl, color='#9598a1', lw=1.2, ls=(0, (4, 4)), zorder=1)
ax_r.fill_between(rd, rv, 70, where=rv > 70, interpolate=True, color='#c8e6c9', alpha=0.8, lw=0, zorder=1)
ax_r.fill_between(rd, rv, 30, where=rv < 30, interpolate=True, color='#ffcdd2', alpha=0.6, lw=0, zorder=1)
ax_r.plot(rd, rv, color='#131722', lw=1.1, zorder=3)
tx, ty = zip(*rsi_trend)
ax_r.plot(tx, ty, color=TREND, lw=1.6, zorder=4)
right_labels(lab_r, rsi_ticks, lambda t: f'{t:.2f}')

# ---- ADX pane ----
ylim_a = (8.97, 51.23)
ax_a.set_ylim(*ylim_a)
lab_a.set_ylim(*ylim_a)
ad, av = zip(*adx_points)
ax_a.plot(ad, av, color='#f7525f', lw=1.3, zorder=3)
right_labels(lab_a, adx_ticks, lambda t: f'{t:.2f}')

# time axis
tick_days = [int((np.datetime64(m) - start_date).astype(int)) for m in month_starts]
ax_a.set_xticks(tick_days)
ax_a.set_xticklabels(month_labels, fontsize=13.5, color=TXT)
ax_a.tick_params(axis='x', length=0, pad=9)
for lbl in ax_a.get_xticklabels():
    if lbl.get_text() == '2025':
        lbl.set_fontweight('bold')


# frame and pane separators
def hline(y, x0=11, x1=2035, lw=1.4):
    fig.add_artist(Line2D([x0 / W, x1 / W], [1 - y / H, 1 - y / H], color=GRID, lw=lw))


def vline(x, y0=32, y1=1100, lw=1.4):
    fig.add_artist(Line2D([x / W, x / W], [1 - y0 / H, 1 - y1 / H], color=GRID, lw=lw))


for yy in (32, 442.5, 648, 853, 1100):
    hline(yy)
vline(11)
vline(2035)

# legends
renderer = fig.canvas.get_renderer()


def legend_row(x_px, y_px, pieces, size):
    for s, col, gap in pieces:
        t = fig.text(x_px / W, 1 - y_px / H, s, color=col, fontsize=size, va='center', ha='left')
        x_px += t.get_window_extent(renderer=renderer).width + gap


fig.text(11 / W, 1 - 17 / H, 'crispus9 published on TradingView.com, Mar 07, 2025 14:45 UTC+3',
         fontsize=10.8, color=TXT, va='center', ha='left')
teal = '#089981'
legend_row(20, 50, [('Shiba Inu \u00b7 1D \u00b7 CRYPTO', TXT, 10), ('O', TXT, 0), ('0.000013397', teal, 9),
                    ('H', TXT, 0), ('0.000013675', teal, 9), ('L', TXT, 0), ('0.000012776', teal, 9),
                    ('C', TXT, 0), ('0.000013614', teal, 0)], 10.6)
legend_row(21, 461, [('PPO (12, 26, 9, close)', TXT, 9), ('0.013409768', '#26a69a', 9),
                     ('\u22126.270129409', '#2196f3', 9), ('\u22126.283539177', '#ff6d00', 9),
                     ('\u22126.270129409', '#008000', 9), ('\u2300', '#787b86', 0)], 10.6)
legend_row(21, 666, [('RSI (14, close)', TXT, 9), ('40.97', TXT, 0)], 10.6)
legend_row(21, 871, [('ADX (14, 14)', TXT, 9), ('42.58', '#f23645', 0)], 10.6)

# TradingView mark and name
ax_logo = fig.add_axes([10 / W, 1 - 1128 / H, 18 / W, 15 / H])
ax_logo.set_xlim(0, 18)
ax_logo.set_ylim(15, 0)
ax_logo.axis('off')
ax_logo.add_patch(Rectangle((0, 2), 7.5, 3.5, color=TXT))
ax_logo.add_patch(Rectangle((4, 2), 3.5, 11, color=TXT))
ax_logo.add_patch(Circle((10.2, 4), 1.9, color=TXT))
ax_logo.add_patch(Polygon([(13.5, 2), (17.5, 2), (12.5, 13), (8.5, 13)], color=TXT))
fig.text(31 / W, 1 - 1120 / H, 'TradingView', fontsize=10.8, color=TXT, va='center', ha='left',
         fontweight='medium')

fig.savefig('out.png', dpi=100, facecolor='white')
